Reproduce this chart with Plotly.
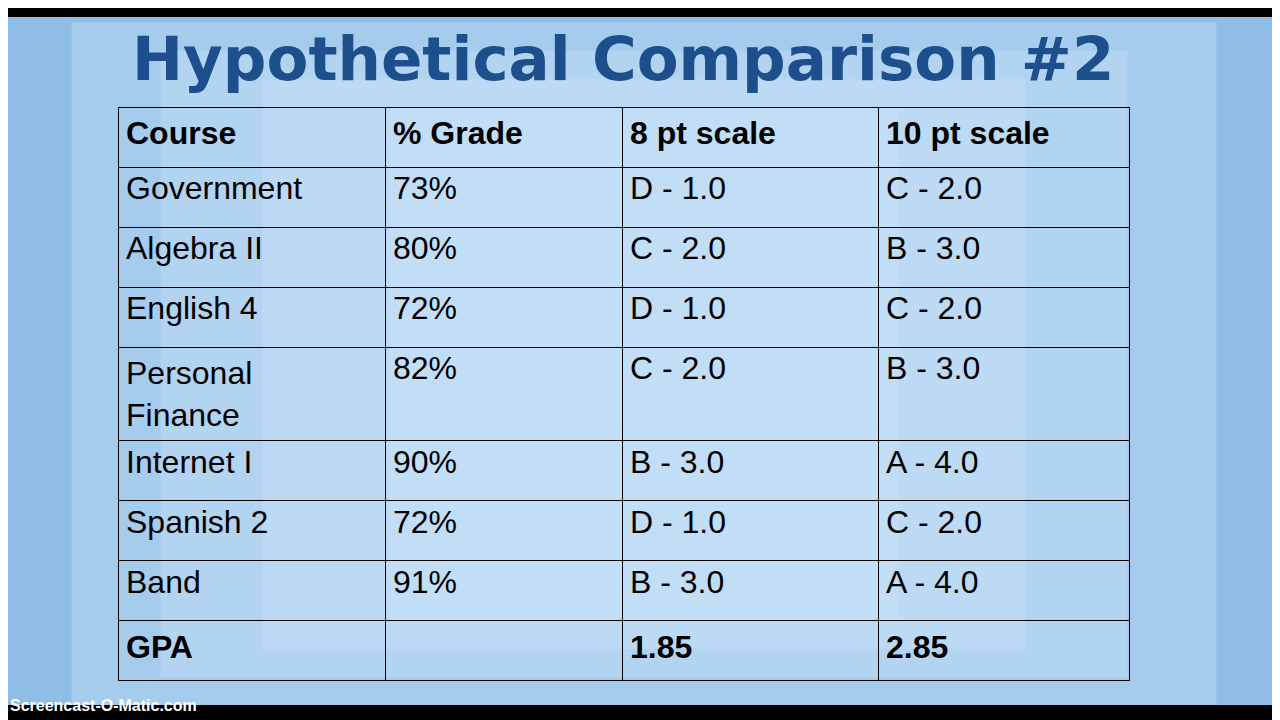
import plotly.graph_objects as go

courses = ["Government", "Algebra II", "English 4", "Personal<br>Finance",
           "Internet I", "Spanish 2", "Band", "<b>GPA</b>"]
pct_grade = ["73%", "80%", "72%", "82%", "90%", "72%", "91%", ""]
eight_pt = ["D - 1.0", "C - 2.0", "D - 1.0", "C - 2.0", "B - 3.0", "D - 1.0", "B - 3.0", "<b>1.85</b>"]
ten_pt = ["C - 2.0", "B - 3.0", "C - 2.0", "B - 3.0", "A - 4.0", "C - 2.0", "A - 4.0", "<b>2.85</b>"]
headers = ["<b>Course</b>", "<b>% Grade</b>", "<b>8 pt scale</b>", "<b>10 pt scale</b>"]

# page shows the figure offset by 8px, so size and positions are compensated
OFF = 8
W, H = 1280 - OFF, 720 - OFF


def px(x):
    return (x - OFF) / W


def py(y):
    return 1 - (y - OFF) / H


fig = go.Figure()

fig.add_trace(go.Table(
    domain=dict(x=[px(118), px(1129)], y=[0, py(107)]),
    columnwidth=[267, 237, 256, 251],
    header=dict(values=headers, height=60, align="left",
                fill_color="rgba(0,0,0,0)", line_color="black",
                font=dict(family="Liberation Sans", size=32, color="black")),
    cells=dict(values=[courses, pct_grade, eight_pt, ten_pt], height=60, align="left",
               fill_color="rgba(0,0,0,0)", line_color="black",
               font=dict(family="Liberation Sans", size=32, color="black")),
))

# slide background: dark bars top/bottom, soft lighter centre
shapes = []
for i, (x0, op) in enumerate([(0.05, 0.35), (0.12, 0.35), (0.2, 0.35), (0.3, 0.35)]):
    shapes.append(dict(type="rect", xref="paper", yref="paper", x0=x0, x1=1 - x0,
                       y0=0.02 + i * 0.04, y1=0.98 - i * 0.04,
                       fillcolor="#cfe6fa", opacity=op, line_width=0, layer="below"))
shapes += [
    dict(type="rect", xref="paper", yref="paper", x0=-0.01, x1=1.01, y0=py(17), y1=1.02,
         fillcolor="black", line_width=0),
    dict(type="rect", xref="paper", yref="paper", x0=-0.01, x1=1.01, y0=-0.02, y1=py(705),
         fillcolor="black", line_width=0),
]

fig.update_layout(
    width=W, height=H,
    margin=dict(l=0, r=0, t=0, b=0),
    paper_bgcolor="#8fbde6",
    shapes=shapes,
    annotations=[
        dict(text="<b>Hypothetical Comparison #2</b>", xref="paper", yref="paper",
             x=px(623), y=py(58), showarrow=False, xanchor="center", yanchor="middle",
             font=dict(family="DejaVu Sans", size=61, color="#1d4f8c")),
        dict(text="<b>Screencast-O-Matic.com</b>", xref="paper", yref="paper",
             x=px(8), y=py(705), showarrow=False, xanchor="left", yanchor="middle",
             font=dict(family="Liberation Sans", size=16, color="white")),
    ],
)

fig.write_html("out.html")
